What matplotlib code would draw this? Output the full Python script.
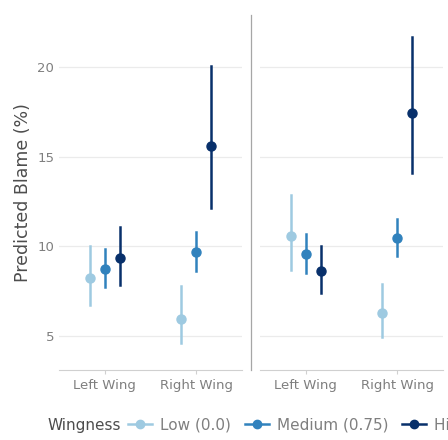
import matplotlib.pyplot as plt
from matplotlib.lines import Line2D

categories = ['Left Wing', 'Right Wing']
levels = ['Low (0.0)', 'Medium (0.75)', 'High (1.5)']
colors = ['#9ecae1', '#3182bd', '#08306b']

# panel 1: [level][category]
est1 = [[8.23, 5.95], [8.74, 9.68], [9.35, 15.6]]
lo1 = [[6.73, 4.61], [7.73, 8.63], [7.84, 12.14]]
hi1 = [[10.0, 7.79], [9.85, 10.8], [11.08, 20.06]]
# panel 2
est2 = [[10.58, 6.28], [9.57, 10.47], [8.63, 17.44]]
lo2 = [[8.68, 4.94], [8.51, 9.46], [7.4, 14.09]]
hi2 = [[12.86, 7.9], [10.69, 11.53], [10.02, 21.68]]

dodge = [-0.165, 0.0, 0.165]

fig = plt.figure(figsize=(4.48, 4.4), dpi=100)
W, H = 448, 440
ax1 = fig.add_axes([59 / W, 70 / H, 183 / W, 355 / H])
ax2 = fig.add_axes([260 / W, 70 / H, 183 / W, 355 / H])

for ax, est, lo, hi in [(ax1, est1, lo1, hi1), (ax2, est2, lo2, hi2)]:
    for i in range(3):
        for j in range(2):
            x = j + 1 + dodge[i]
            ax.plot([x, x], [lo[i][j], hi[i][j]], color=colors[i], lw=1.8, zorder=3)
            ax.plot(x, est[i][j], 'o', color=colors[i], ms=6.5, zorder=4)
    ax.set_xlim(0.5, 2.5)
    ax.set_ylim(3.1, 22.9)
    ax.set_yticks([5, 10, 15, 20])
    ax.set_xticks([1, 2])
    ax.set_xticklabels(categories)
    ax.grid(axis='y', color='#ebebeb', lw=0.9)
    ax.set_axisbelow(True)
    for s in ['top', 'right', 'left']:
        ax.spines[s].set_visible(False)
    ax.spines['bottom'].set_color('#d0d0d0')
    ax.tick_params(axis='x', colors='#d0d0d0', labelcolor='#7f7f7f', labelsize=9.5, length=3)
    ax.tick_params(axis='y', length=0, labelcolor='#7f7f7f', labelsize=9.5)

ax2.set_yticklabels([])
ax1.set_ylabel('Predicted Blame (%)', fontsize=12.5, color='#4d4d4d')

fig.add_artist(Line2D([251 / W, 251 / W], [70 / H, 425 / H], color='#a6a6a6', lw=0.9))

fig.text(48 / W, 15 / H, 'Wingness', fontsize=11, color='#4d4d4d', va='center')
handles = [Line2D([], [], color=c, marker='o', ms=6, lw=1.8) for c in colors]
fig.legend(handles, levels, loc='center left', bbox_to_anchor=(128 / W, 15 / H), ncol=3,
           frameon=False, fontsize=11, labelcolor='#7f7f7f', handlelength=1.6,
           handletextpad=0.5, columnspacing=0.9, borderaxespad=0, borderpad=0)

fig.savefig('out.png', dpi=100)
